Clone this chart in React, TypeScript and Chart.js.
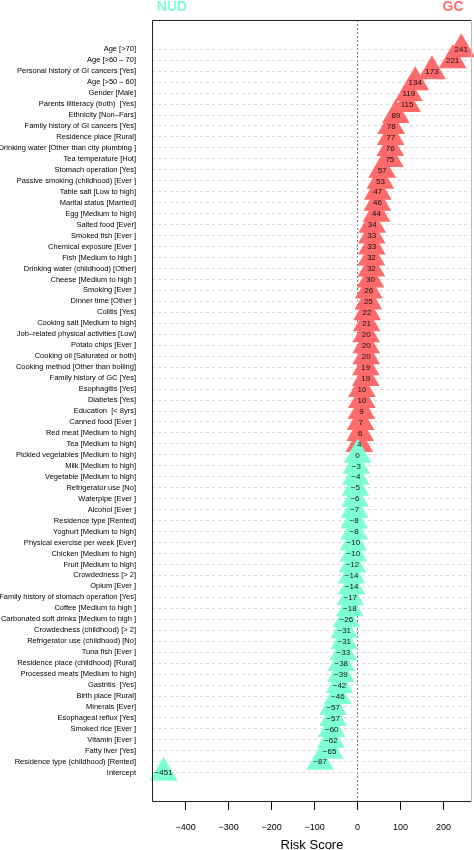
import React, { useEffect, useRef } from "react";
import { Chart, registerables } from "chart.js";

Chart.register(...registerables);

const factorLabels: string[] = [
  "Age [>70]",
  "Age [>60 – 70]",
  "Personal history of GI cancers [Yes]",
  "Age [>50 – 60]",
  "Gender [Male]",
  "Parents illiteracy (both)  [Yes]",
  "Ethnicity [Non–Fars]",
  "Family history of GI cancers [Yes]",
  "Residence place [Rural]",
  "Drinking water [Other than city plumbing ]",
  "Tea temperature [Hot]",
  "Stomach operation [Yes]",
  "Passive smoking (childhood) [Ever ]",
  "Table salt [Low to high]",
  "Marital status [Married]",
  "Egg [Medium to high]",
  "Salted food [Ever]",
  "Smoked fish [Ever ]",
  "Chemical exposure [Ever ]",
  "Fish [Medium to high ]",
  "Drinking water (childhood) [Other]",
  "Cheese [Medium to high ]",
  "Smoking [Ever ]",
  "Dinner time [Other ]",
  "Colitis [Yes]",
  "Cooking salt [Medium to high]",
  "Job–related physical activities [Low]",
  "Potato chips [Ever ]",
  "Cooking oil [Saturated or both]",
  "Cooking method [Other than boiling]",
  "Family history of GC [Yes]",
  "Esophagitis [Yes]",
  "Diabetes [Yes]",
  "Education  [< 8yrs]",
  "Canned food [Ever ]",
  "Red meat [Medium to high]",
  "Tea [Medium to high]",
  "Pickled vegetables [Medium to high]",
  "Milk [Medium to high]",
  "Vegetable [Medium to high]",
  "Refrigerator use [No]",
  "Waterpipe [Ever ]",
  "Alcohol [Ever ]",
  "Residence type [Rented]",
  "Yoghurt [Medium to high]",
  "Physical exercise per week [Ever]",
  "Chicken [Medium to high]",
  "Fruit [Medium to high]",
  "Crowdedness [> 2]",
  "Opium [Ever ]",
  "Family history of stomach operation [Yes]",
  "Coffee [Medium to high ]",
  "Carbonated soft drinks [Medium to high ]",
  "Crowdedness (childhood) [> 2]",
  "Refrigerator use (childhood) [No]",
  "Tuna fish [Ever ]",
  "Residence place (childhood) [Rural]",
  "Processed meats [Medium to high]",
  "Gastritis  [Yes]",
  "Birth place [Rural]",
  "Minerals [Ever]",
  "Esophageal reflux [Yes]",
  "Smoked rice [Ever ]",
  "Vitamin [Ever ]",
  "Fatty liver [Yes]",
  "Residence type (childhood) [Rented]",
  "Intercept",
];

const riskScores: number[] = [
  241, 221, 173, 134, 119, 115, 89, 78, 77, 76, 75, 57, 53, 47, 46, 44, 34, 33,
  33, 32, 32, 30, 26, 25, 22, 21, 20, 20, 20, 19, 19, 10, 10, 9, 7, 6, 4, 0, -3,
  -4, -5, -6, -7, -8, -8, -10, -10, -12, -14, -14, -17, -18, -26, -31, -31, -33,
  -38, -39, -42, -46, -57, -57, -60, -62, -65, -87, -451,
];

const xTickValues: number[] = [-400, -300, -200, -100, 0, 100, 200];
const groupNames: string[] = ["NUD", "GC"];
const axisTitle = "Risk Score";

const RED = "#FF6B6B";
const MINT = "#7FFFD4";
const FONT = "'Liberation Sans', Arial, Helvetica, sans-serif";

const fmt = (v: number) => (v < 0 ? "\u2212" + Math.abs(v) : String(v));

export default function App() {
  const ref = useRef<HTMLCanvasElement>(null);

  useEffect(() => {
    if (!ref.current) return;
    const overlay = {
      id: "overlay",
      afterDatasetsDraw(chart: any) {
        const { ctx, chartArea: a } = chart;
        const meta = chart.getDatasetMeta(0);
        ctx.save();
        ctx.font = `8px ${FONT}`;
        ctx.fillStyle = "#111";
        ctx.textAlign = "center";
        ctx.textBaseline = "middle";
        meta.data.forEach((pt: any, i: number) => {
          ctx.fillText(fmt(riskScores[i]), pt.x, pt.y + 0.5);
        });
        // plot box
        ctx.lineWidth = 1;
        ctx.strokeStyle = "#222";
        ctx.beginPath();
        ctx.moveTo(a.right, a.top + 0.5);
        ctx.lineTo(a.left + 0.5, a.top + 0.5);
        ctx.lineTo(a.left + 0.5, a.bottom - 0.5);
        ctx.lineTo(a.right, a.bottom - 0.5);
        ctx.stroke();
        ctx.strokeStyle = "#bbb";
        ctx.beginPath();
        ctx.moveTo(a.right - 0.5, a.top);
        ctx.lineTo(a.right - 0.5, a.bottom);
        ctx.stroke();
        // group titles
        ctx.font = `bold 14px ${FONT}`;
        ctx.textBaseline = "alphabetic";
        ctx.fillStyle = MINT;
        ctx.fillText(groupNames[0], a.left + 20, 11);
        ctx.fillStyle = RED;
        ctx.fillText(groupNames[1], a.right - 19, 11);
        // axis title
        ctx.font = `13px ${FONT}`;
        ctx.fillStyle = "#000";
        ctx.fillText(axisTitle, (a.left + a.right) / 2, 849);
        ctx.restore();
      },
    };

    const chart = new Chart(ref.current, {
      type: "scatter",
      data: {
        datasets: [
          {
            data: riskScores.map((v, i) => ({ x: v, y: i })),
            pointStyle: "triangle",
            pointRadius: 16,
            pointHoverRadius: 16,
            pointBackgroundColor: riskScores.map((v) => (v > 0 ? RED : MINT)),
            pointBorderWidth: 0,
            borderWidth: 0,
            clip: false,
          } as any,
        ],
      },
      options: {
        animation: false,
        responsive: false,
        maintainAspectRatio: false,
        devicePixelRatio: 1,
        events: [],
        layout: { autoPadding: false, padding: { top: 20, right: 2, left: 0, bottom: 0 } },
        plugins: { legend: { display: false }, tooltip: { enabled: false } },
        scales: {
          x: {
            type: "linear",
            position: "bottom",
            min: -478,
            max: 266,
            afterBuildTicks: (s: any) => {
              s.ticks = xTickValues.map((v) => ({ value: v }));
            },
            afterFit: (s: any) => {
              s.height = 48;
              s.paddingLeft = 0;
              s.paddingRight = 0;
            },
            grid: {
              color: (c: any) => (c.tick && c.tick.value === 0 ? "#777" : "rgba(0,0,0,0)"),
              tickColor: "#000",
              tickLength: 8,
              lineWidth: 1,
            },
            border: { display: false, dash: [2, 2] },
            ticks: {
              font: { family: FONT, size: 9 },
              color: "#000",
              padding: 12,
              maxRotation: 0,
              autoSkip: false,
              callback: (v: any) => fmt(Number(v)),
            },
          },
          y: {
            type: "linear",
            reverse: true,
            min: -2.67,
            max: 68.67,
            afterBuildTicks: (s: any) => {
              s.ticks = factorLabels.map((_, i) => ({ value: i }));
            },
            afterFit: (s: any) => {
              s.width = 152;
              s.paddingTop = 0;
              s.paddingBottom = 0;
            },
            grid: { color: "#dcdcdc", drawTicks: false, lineWidth: 1 },
            border: { display: false, dash: [3, 3] },
            ticks: {
              font: { family: FONT, size: 7.5 },
              color: "#000",
              padding: 16,
              autoSkip: false,
              callback: (v: any) => factorLabels[Number(v)] ?? "",
            },
          },
        },
      } as any,
      plugins: [overlay],
    });
    return () => chart.destroy();
  }, []);

  return (
    <div
      style={{
        position: "fixed",
        left: 0,
        top: 0,
        width: 474,
        height: 850,
        background: "#fff",
        overflow: "hidden",
      }}
    >
      <canvas
        ref={ref}
        width={474}
        height={850}
        style={{ display: "block", width: 474, height: 850 }}
      />
    </div>
  );
}
